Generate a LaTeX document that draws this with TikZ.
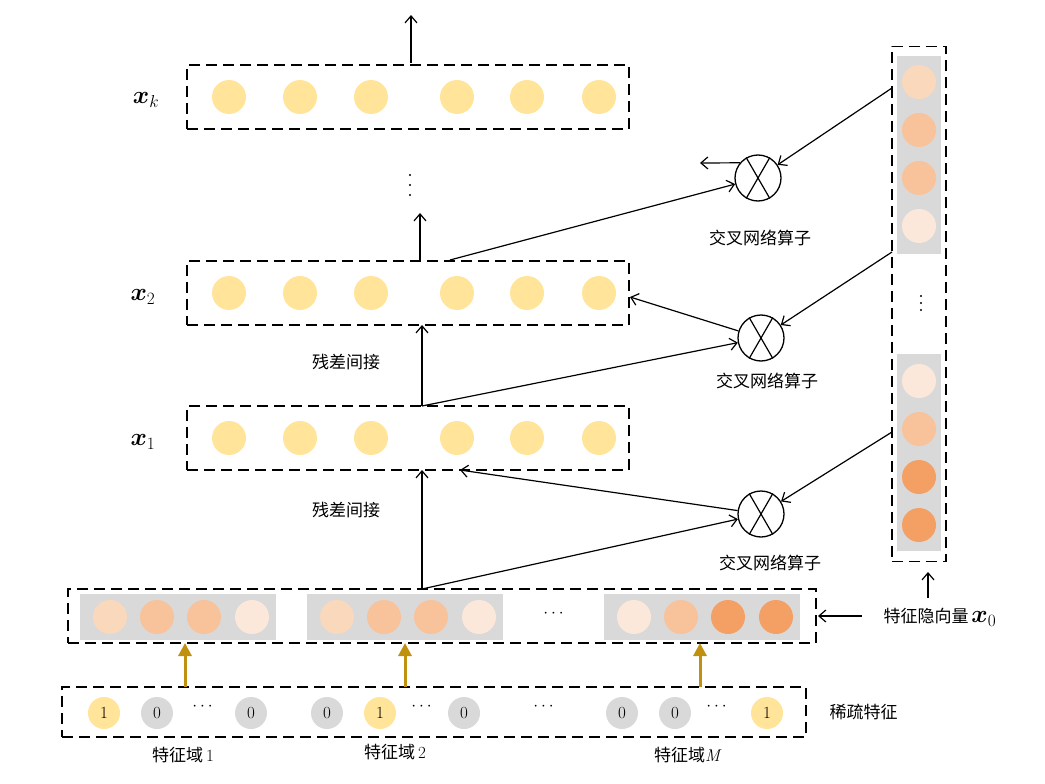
\documentclass[tikz,border=0pt]{standalone}
\usepackage{amsmath,bm}
\usepackage{fontspec}
\newfontfamily\cjk{Noto Sans CJK SC}
\usetikzlibrary{arrows.meta}
\definecolor{yel}{HTML}{FFE49A}
\definecolor{oL}{HTML}{FAD8BC}
\definecolor{oM}{HTML}{F8C39A}
\definecolor{oW}{HTML}{FBE8DA}
\definecolor{oD}{HTML}{F4A064}
\definecolor{gr}{HTML}{D9D9D9}
\definecolor{gold}{HTML}{C09010}
\begin{document}
\begin{tikzpicture}[x=1pt,y=-1pt,
  box/.style={draw,line width=1.3pt,dash pattern=on 11pt off 6pt},
  yc/.style={circle,fill=yel,minimum size=34pt,inner sep=0},
  oc/.style={circle,fill=#1,minimum size=34pt,inner sep=0},
  sc/.style={circle,fill=#1,minimum size=32pt,inner sep=0,font=\fontsize{17}{17}\selectfont},
  ar/.style={-{Straight Barb[length=7pt,width=12pt]},line width=1.2pt},
  ga/.style={-{Triangle[length=13pt,width=13pt]},line width=3pt,draw=gold},
  cr/.style={circle,draw,line width=1.3pt,minimum size=46pt,inner sep=0},
  lab/.style={font=\cjk\fontsize{17}{17}\selectfont},
  ml/.style={font=\fontsize{24}{24}\selectfont},
  dt/.style={font=\fontsize{18}{18}\selectfont}]
\useasboundingbox (0,0) rectangle (1045,784);
\foreach \n/\y in {k/97,two/293,one/438}{
  \node[box,minimum width=442pt,minimum height=64pt] (b\n) at (408,\y) {};
  \foreach \x [count=\i] in {229,300,371,457,527,599}
    \node[yc] (c\n\i) at (\x,\y) {};
}
\node[ml] (lk) at (146,100) {$\bm{x}_k$};
\node[ml] (l2) at (143,297) {$\bm{x}_2$};
\node[ml] (l1) at (143,442) {$\bm{x}_1$};
\node[box,minimum width=748pt,minimum height=54pt] (emb) at (442,616) {};
\foreach \cx/\a/\b/\c/\d [count=\g] in {178/oL/oM/oM/oW,405/oL/oM/oM/oW,702/oW/oM/oD/oD}{
  \node[fill=gr,minimum width=196pt,minimum height=46pt,inner sep=0] (g\g) at (\cx,617) {};
  \node[oc=\a] at (\cx-68,617) {};
  \node[oc=\b] at (\cx-21,617) {};
  \node[oc=\c] at (\cx+26,617) {};
  \node[oc=\d] at (\cx+74,617) {};
}
\node[dt] (ed) at (555,614) {$\cdots$};
\node[box,minimum width=744pt,minimum height=50pt] (sp) at (434,712) {};
\foreach \x/\c/\t in {104/yel/1,157/gr/0,251/gr/0,327/gr/0,380/yel/1,464/gr/0,622/gr/0,675/gr/0,767/yel/1}
  \node[sc=\c] at (\x,713) {\t};
\foreach \x in {204,423,545,718} \node[dt] at (\x,707) {$\cdots$};
\node[lab] (f1) at (183,755) {特征域\,{\rmfamily 1}};
\node[lab] (f2) at (395,752) {特征域\,{\rmfamily 2}};
\node[lab] (fm) at (687,755) {特征域{\rmfamily\itshape M}};
\node[lab,anchor=west] (sparse) at (826,712) {稀疏特征};
\foreach \x in {185,405,700}
  \draw[ga] (\x,687) -- (\x,643);
\node[box,minimum width=54pt,minimum height=515pt] (x0box) at (919,304) {};
\node[fill=gr,minimum width=44pt,minimum height=197pt,inner sep=0] (r1) at (919,155) {};
\node[fill=gr,minimum width=44pt,minimum height=197pt,inner sep=0] (r2) at (919,452) {};
\foreach \y/\c in {82/oL,130/oM,178/oM,226/oW,381/oW,429/oM,477/oD,525/oD}
  \node[oc=\c] at (919,\y) {};
\foreach \y in {296,303,310} \fill (921,\y) circle (1.1pt);
\node[lab,anchor=west] (x0) at (880,617) {特征隐向量\,{\fontsize{24}{24}\selectfont$\bm{x}_0$}};
\coordinate (x0top) at (928,598);
\draw[ar] (x0top) -- (928,572);
\draw[ar] (862,616) -- (818,616);
\foreach \n/\x/\y in {3/758/178,2/761/338,1/761/514}{
  \node[cr] (o\n) at (\x,\y) {};
  \draw[line width=1.2pt] (o\n.120) -- (o\n.-60) (o\n.60) -- (o\n.-120);
}
\node[lab] at (760,238) {交叉网络算子};
\node[lab] at (767,381) {交叉网络算子};
\node[lab] at (770,563) {交叉网络算子};
\draw[ar] (892,88) -- (o3);
\draw[ar] (450,260) -- (o3);
\coordinate (o3out) at (700,163);
\draw[ar] (o3.140) -- (o3out);
\draw[ar] (892,252) -- (o2);
\draw[ar] (422,406) -- (o2);
\draw[ar] (o2) -- (630,297);
\draw[ar] (892,432) -- (o1);
\draw[ar] (422,589) -- (o1);
\draw[ar] (o1) -- (460,470);
\draw[ar] (422,589) -- (422,470);
\draw[ar] (422,406) -- (422,325);
\draw[ar] (420,261) -- (420,213);
\foreach \y in {175,185,195} \fill (410,\y) circle (1.1pt);
\draw[ar] (411,63) -- (411,15);
\node[lab] at (346,362) {残差间接};
\node[lab] at (346,510) {残差间接};
\end{tikzpicture}
\end{document}
